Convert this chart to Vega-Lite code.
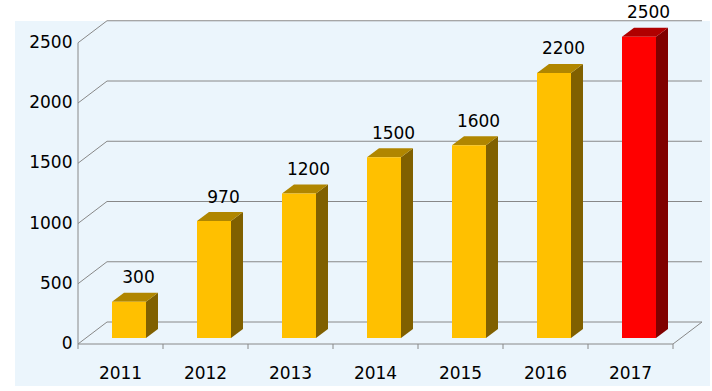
{
  "$schema": "https://vega.github.io/schema/vega-lite/v6.json",
  "width": 695,
  "height": 365,
  "autosize": {"type": "none"},
  "padding": {"left": 15, "top": 21, "right": 2, "bottom": 5},
  "background": "white",
  "config": {
    "view": {"fill": "#EBF5FC", "stroke": null},
    "text": {"font": "DejaVu Sans"},
    "axis": {"disable": true}
  },
  "datasets": {
    "bars": [
      {"year": 2011, "value": 300, "highlight": false},
      {"year": 2012, "value": 970, "highlight": false},
      {"year": 2013, "value": 1200, "highlight": false},
      {"year": 2014, "value": 1500, "highlight": false},
      {"year": 2015, "value": 1600, "highlight": false},
      {"year": 2016, "value": 2200, "highlight": false},
      {"year": 2017, "value": 2500, "highlight": true}
    ],
    "ticks": [
      {"v": 0}, {"v": 500}, {"v": 1000}, {"v": 1500}, {"v": 2000}, {"v": 2500}
    ]
  },
  "layer": [
    {
      "data": {"name": "ticks"},
      "mark": {"type": "rule", "color": "#888888", "strokeWidth": 1, "xOffset": 29, "x2Offset": 29, "yOffset": -22},
      "encoding": {
        "x": {"datum": 2010.5, "type": "quantitative", "scale": {"domain": [2009.75882, 2017.93529], "nice": false, "zero": false, "padding": 0}, "axis": null},
        "x2": {"datum": 2017.5},
        "y": {"field": "v", "type": "quantitative", "scale": {"domain": [-348.5, 2680.5], "nice": false, "zero": false, "padding": 0}, "axis": null}
      }
    },
    {
      "data": {"name": "ticks"},
      "mark": {"type": "rule", "color": "#888888", "strokeWidth": 1, "x2Offset": 29, "y2Offset": -22},
      "encoding": {
        "x": {"datum": 2010.5, "type": "quantitative", "scale": {"domain": [2009.75882, 2017.93529], "nice": false, "zero": false, "padding": 0}, "axis": null},
        "x2": {"datum": 2010.5},
        "y": {"field": "v", "type": "quantitative", "scale": {"domain": [-348.5, 2680.5], "nice": false, "zero": false, "padding": 0}, "axis": null},
        "y2": {"field": "v"}
      }
    },
    {
      "data": {"name": "ticks"},
      "transform": [{"filter": "datum.v === 0"}],
      "mark": {"type": "rule", "color": "#888888", "strokeWidth": 1, "x2Offset": 29, "y2Offset": -22},
      "encoding": {
        "x": {"datum": 2017.5, "type": "quantitative", "scale": {"domain": [2009.75882, 2017.93529], "nice": false, "zero": false, "padding": 0}, "axis": null},
        "x2": {"datum": 2017.5},
        "y": {"field": "v", "type": "quantitative", "scale": {"domain": [-348.5, 2680.5], "nice": false, "zero": false, "padding": 0}, "axis": null},
        "y2": {"field": "v"}
      }
    },
    {
      "data": {"name": "ticks"},
      "mark": {"type": "rule", "color": "#888888", "strokeWidth": 1},
      "encoding": {
        "x": {"datum": 2010.5, "type": "quantitative", "scale": {"domain": [2009.75882, 2017.93529], "nice": false, "zero": false, "padding": 0}, "axis": null},
        "y": {"aggregate": "min", "field": "v", "type": "quantitative", "scale": {"domain": [-348.5, 2680.5], "nice": false, "zero": false, "padding": 0}, "axis": null},
        "y2": {"aggregate": "max", "field": "v"}
      }
    },
    {
      "data": {"name": "ticks"},
      "transform": [{"filter": "datum.v === 0"}],
      "mark": {"type": "rule", "color": "#888888", "strokeWidth": 1},
      "encoding": {
        "x": {"datum": 2010.5, "type": "quantitative", "scale": {"domain": [2009.75882, 2017.93529], "nice": false, "zero": false, "padding": 0}, "axis": null},
        "x2": {"datum": 2017.5},
        "y": {"field": "v", "type": "quantitative", "scale": {"domain": [-348.5, 2680.5], "nice": false, "zero": false, "padding": 0}, "axis": null}
      }
    },
    {
      "data": {"name": "bars"},
      "mark": {"type": "rule", "color": "#888888", "strokeWidth": 1, "xOffset": -42.5, "y2Offset": 5},
      "encoding": {
        "x": {"field": "year", "type": "quantitative", "scale": {"domain": [2009.75882, 2017.93529], "nice": false, "zero": false, "padding": 0}, "axis": null},
        "y": {"datum": 0, "type": "quantitative", "scale": {"domain": [-348.5, 2680.5], "nice": false, "zero": false, "padding": 0}, "axis": null},
        "y2": {"datum": 0}
      }
    },
    {
      "data": {"name": "bars"},
      "transform": [{"filter": "datum.year === 2017"}],
      "mark": {"type": "rule", "color": "#888888", "strokeWidth": 1, "xOffset": 42.5, "y2Offset": 5},
      "encoding": {
        "x": {"field": "year", "type": "quantitative", "scale": {"domain": [2009.75882, 2017.93529], "nice": false, "zero": false, "padding": 0}, "axis": null},
        "y": {"datum": 0, "type": "quantitative", "scale": {"domain": [-348.5, 2680.5], "nice": false, "zero": false, "padding": 0}, "axis": null},
        "y2": {"datum": 0}
      }
    },
    {
      "data": {"name": "ticks"},
      "mark": {"type": "text", "font": "DejaVu Sans", "fontSize": 17, "color": "#000000", "align": "right", "baseline": "middle", "xOffset": -5.5},
      "encoding": {
        "x": {"datum": 2010.5, "type": "quantitative", "scale": {"domain": [2009.75882, 2017.93529], "nice": false, "zero": false, "padding": 0}, "axis": null},
        "y": {"field": "v", "type": "quantitative", "scale": {"domain": [-348.5, 2680.5], "nice": false, "zero": false, "padding": 0}, "axis": null},
        "text": {"field": "v", "type": "quantitative", "format": "d"}
      }
    },
    {
      "data": {"name": "bars"},
      "mark": {"type": "text", "font": "DejaVu Sans", "fontSize": 17, "color": "#000000", "align": "center", "baseline": "alphabetic", "dy": 35},
      "encoding": {
        "x": {"field": "year", "type": "quantitative", "scale": {"domain": [2009.75882, 2017.93529], "nice": false, "zero": false, "padding": 0}, "axis": null},
        "y": {"datum": 0, "type": "quantitative", "scale": {"domain": [-348.5, 2680.5], "nice": false, "zero": false, "padding": 0}, "axis": null},
        "text": {"field": "year", "type": "quantitative", "format": "d"}
      }
    },
    {
      "data": {"name": "bars"},
      "mark": {"type": "bar", "width": 12, "xOffset": 31.5, "yOffset": -6, "y2Offset": -15},
      "encoding": {
        "x": {"field": "year", "type": "quantitative", "scale": {"domain": [2009.75882, 2017.93529], "nice": false, "zero": false, "padding": 0}, "axis": null},
        "y": {"field": "value", "type": "quantitative", "scale": {"domain": [-348.5, 2680.5], "nice": false, "zero": false, "padding": 0}, "axis": null},
        "y2": {"datum": 0},
        "fill": {"condition": {"test": "datum.highlight", "value": "#800000"}, "value": "#806000"}
      }
    },
    {
      "data": {"name": "bars"},
      "mark": {"type": "point", "shape": "M 25.5,-6 L 37.5,-15 L 37.5,-4 L 25.5,-4 Z", "size": 4, "filled": true, "opacity": 1, "strokeWidth": 0},
      "encoding": {
        "x": {"field": "year", "type": "quantitative", "scale": {"domain": [2009.75882, 2017.93529], "nice": false, "zero": false, "padding": 0}, "axis": null},
        "y": {"field": "value", "type": "quantitative", "scale": {"domain": [-348.5, 2680.5], "nice": false, "zero": false, "padding": 0}, "axis": null},
        "fill": {"condition": {"test": "datum.highlight", "value": "#800000"}, "value": "#806000"}
      }
    },
    {
      "data": {"name": "bars"},
      "mark": {"type": "point", "shape": "M 25.5,-17 L 37.5,-17 L 37.5,-15 L 25.5,-6 Z", "size": 4, "filled": true, "opacity": 1, "strokeWidth": 0},
      "encoding": {
        "x": {"field": "year", "type": "quantitative", "scale": {"domain": [2009.75882, 2017.93529], "nice": false, "zero": false, "padding": 0}, "axis": null},
        "y": {"datum": 0, "type": "quantitative", "scale": {"domain": [-348.5, 2680.5], "nice": false, "zero": false, "padding": 0}, "axis": null},
        "fill": {"condition": {"test": "datum.highlight", "value": "#800000"}, "value": "#806000"}
      }
    },
    {
      "data": {"name": "bars"},
      "mark": {"type": "point", "shape": "M -8.5,-6 L 25.5,-6 L 37.5,-15 L 3.5,-15 Z", "size": 4, "filled": true, "opacity": 1, "strokeWidth": 0},
      "encoding": {
        "x": {"field": "year", "type": "quantitative", "scale": {"domain": [2009.75882, 2017.93529], "nice": false, "zero": false, "padding": 0}, "axis": null},
        "y": {"field": "value", "type": "quantitative", "scale": {"domain": [-348.5, 2680.5], "nice": false, "zero": false, "padding": 0}, "axis": null},
        "fill": {"condition": {"test": "datum.highlight", "value": "#B00000"}, "value": "#B08600"}
      }
    },
    {
      "data": {"name": "bars"},
      "mark": {"type": "bar", "width": 34, "xOffset": 8.5, "yOffset": -6, "y2Offset": -6},
      "encoding": {
        "x": {"field": "year", "type": "quantitative", "scale": {"domain": [2009.75882, 2017.93529], "nice": false, "zero": false, "padding": 0}, "axis": null},
        "y": {"field": "value", "type": "quantitative", "scale": {"domain": [-348.5, 2680.5], "nice": false, "zero": false, "padding": 0}, "axis": null},
        "y2": {"datum": 0},
        "fill": {"condition": {"test": "datum.highlight", "value": "#FF0000"}, "value": "#FFC000"}
      }
    },
    {
      "data": {"name": "bars"},
      "mark": {"type": "text", "font": "DejaVu Sans", "fontSize": 17, "color": "#000000", "align": "center", "baseline": "alphabetic", "xOffset": 18, "dy": -24.5},
      "encoding": {
        "x": {"field": "year", "type": "quantitative", "scale": {"domain": [2009.75882, 2017.93529], "nice": false, "zero": false, "padding": 0}, "axis": null},
        "y": {"field": "value", "type": "quantitative", "scale": {"domain": [-348.5, 2680.5], "nice": false, "zero": false, "padding": 0}, "axis": null},
        "text": {"field": "value", "type": "quantitative", "format": "d"}
      }
    }
  ]
}
